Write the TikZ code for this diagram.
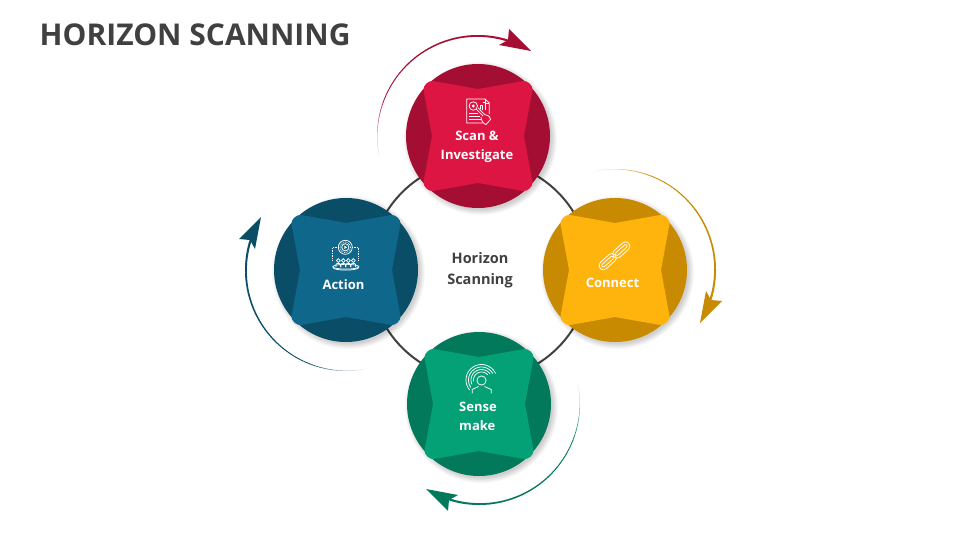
\documentclass[tikz,border=0pt]{standalone}
\usepackage{fontspec}
\setmainfont{Open Sans}
\definecolor{redD}{HTML}{A50E33}\definecolor{redL}{HTML}{DC1543}
\definecolor{yelD}{HTML}{C88A00}\definecolor{yelL}{HTML}{FFB40D}
\definecolor{grnD}{HTML}{01795A}\definecolor{grnL}{HTML}{04A076}
\definecolor{bluD}{HTML}{0A4D66}\definecolor{bluL}{HTML}{0F678B}
\definecolor{ink}{HTML}{404040}
\tikzset{
  disc/.style={circle,minimum size=144pt,inner sep=0pt,fill=#1},
  lab/.style={text=white,font=\fontsize{13}{19}\selectfont\bfseries,align=center,inner sep=0pt},
  ic/.style={draw=white,line width=0.75pt,fill=none},
}
% disc with shadow and star: name, x, y, dark, light
\newcommand{\orb}[5]{%
  \foreach \s in {7,6,...,0}{\fill[black,opacity=0.022] (#2+2.5,#3+2.5) circle[radius=71+\s*0.8];}
  \node[disc=#4] (#1) at (#2,#3) {};
  \fill[#5,shift={(#2,#3)}] (0,-47) -- (45,-55) .. controls (49,-55.7) and (55,-51) .. (54.5,-46)
    -- (46,0) -- (54.5,46) .. controls (55,51) and (49,55.7) .. (45,55)
    -- (0,47) -- (-45,55) .. controls (-49,55.7) and (-55,51) .. (-54.5,46)
    -- (-46,0) -- (-54.5,-46) .. controls (-55,-51) and (-49,-55.7) .. (-45,-55) -- cycle;
}
% tapered, fading arc with head: x, y, quarter turns, colour
\newcommand{\sweep}[4]{%
  \begin{scope}[shift={(#1,#2)},rotate=-90*#3]
    \foreach \i in {0,...,79}{
      \pgfmathsetmacro{\f}{\i/79}
      \pgfmathsetmacro{\t}{168+\i*1.5}
      \pgfmathsetmacro{\w}{0.2+1.9*\f}
      \pgfmathsetmacro{\p}{min(100,10+\f*320)}
      \pgfmathsetmacro{\r}{101-\w/2}
      \draw[#4!\p!white,line width=\w pt] ({\r*cos(\t)},{\r*sin(\t)}) -- ({\r*cos(\t+1.7)},{\r*sin(\t+1.7)});
    }
    \fill[#4] (53,-85) -- (31,-107) -- (30,-96) -- (21,-91) -- cycle;
  \end{scope}
}
\begin{document}
\begin{tikzpicture}[x=1pt,y=-1pt]
\useasboundingbox (0,0) rectangle (960,540);
\fill[white] (0,0) rectangle (960,540);
\node[anchor=west,inner sep=0pt,text=ink,font=\fontsize{30}{36}\selectfont\bfseries] (title) at (39.5,35) {HORIZON SCANNING};

\node[circle,draw=ink,line width=2pt,minimum size=220pt,inner sep=0pt,text=ink,align=center,
      font=\fontsize{14.5}{21}\selectfont\bfseries] (ring) at (480,270) {Horizon\\Scanning};

\sweep{478}{136}{0}{redD}
\sweep{615}{270}{1}{yelD}
\sweep{479}{404}{2}{grnD}
\sweep{346}{270}{3}{bluD}

\orb{scan}{478}{136}{redD}{redL}
\orb{connect}{615}{270}{yelD}{yelL}
\orb{sense}{479}{404}{grnD}{grnL}
\orb{action}{346}{270}{bluD}{bluL}

\node[lab] (scanT) at (477,147) {Scan \&\\Investigate};
\node[lab] (connectT) at (612.5,282.5) {Connect};
\node[lab,align=left] (senseT) at (478,416) {Sense\\make};
\node[lab] (actionT) at (343.5,284.5) {Action};

% scan icon
\begin{scope}[shift={(478,111)}]
  \draw[ic] (5,12) -- (-11.3,12) -- (-11.3,-12) -- (7,-12) -- (11.3,-8) -- (11.3,3);
  \draw[ic] (7,-12) -- (7,-8) -- (11.3,-8);
  \draw[ic] (-4.7,-5) circle[radius=4.2];
  \fill[white] (-4.7,-5) circle[radius=1.6];
  \draw[ic] (-1.8,-2) -- (5,5) (0.2,-3.2) -- (6.5,3.5);
  \draw[ic] (2,-2) -- (2,-6) -- (4.5,-6) -- (4.5,-1) (4.5,-9) -- (7.5,-9) -- (7.5,-1);
  \draw[ic] (-9,2.5) -- (0,2.5) (-9,5.5) -- (2,5.5) (-9,8.5) -- (4,8.5);
  \draw[ic] (3,6) .. controls (3,10) and (6,13) .. (8,13.5) -- (12.5,8.5) .. controls (12,5) and (9,3.5) .. (6.5,3.5);
\end{scope}
% connect icon
\begin{scope}[shift={(614.3,256)}]
  \begin{scope}[shift={(-6.7,5.7)},rotate=42]
    \draw[ic,rounded corners=4pt] (-10,-4.3) rectangle (10,4.3);
    \draw[ic,rounded corners=1.5pt] (-7.5,-1.6) rectangle (7.5,1.6);
  \end{scope}
  \begin{scope}[shift={(7,-6)},rotate=42]
    \draw[ic,rounded corners=4pt] (-10,-4.3) rectangle (10,4.3);
    \draw[ic,rounded corners=1.5pt] (-7.5,-1.6) rectangle (7.5,1.6);
  \end{scope}
\end{scope}
% sense icon
\begin{scope}[shift={(481.5,380)}]
  \foreach \r/\a/\b in {15.5/140/335,13/145/330,10.5/155/325,8/170/320}{
    \draw[ic] plot[domain=\a:\b,samples=24,smooth] ({\r*cos(\x)},{\r*sin(\x)});
  }
  \fill[grnL] (0,0.5) circle[radius=5.8];
  \draw[ic] (0,0.5) circle[radius=4.6];
  \draw[ic] (-9.3,13.3) -- (-9.3,9.5) -- (-3,6.5) (3,6.5) -- (9.7,9.5) -- (9.7,13.3);
\end{scope}
% action icon
\begin{scope}[shift={(345.3,257)}]
  \draw[white,line width=0.7pt,densely dotted] (-6.5,-9.7) -- (-12.7,-9.7) -- (-12.7,3) (6.5,-9.7) -- (13,-9.7) -- (13,3);
  \draw[ic] (0,-9.7) circle[radius=7];
  \draw[ic,densely dotted] (0,-9.7) circle[radius=5.4];
  \draw[ic] (0,-9.7) circle[radius=3.6];
  \fill[white] (-1,-11.5) -- (1.8,-9.7) -- (-1,-7.9) -- cycle;
  \foreach \x in {-7,-2,3,8}{
    \draw[ic] (\x,3.6) circle[radius=1.9];
    \draw[ic] (\x-2.3,10) -- (\x-2.3,7.5) .. controls (\x-2.3,6) and (\x+2.3,6) .. (\x+2.3,7.5) -- (\x+2.3,10);
  }
  \draw[ic] (0.5,9.7) ellipse[x radius=13,y radius=2.4];
  \draw[ic] (-12.5,10.5) .. controls (-11,14) and (12,14) .. (13.5,10.5);
\end{scope}
\end{tikzpicture}
\end{document}
